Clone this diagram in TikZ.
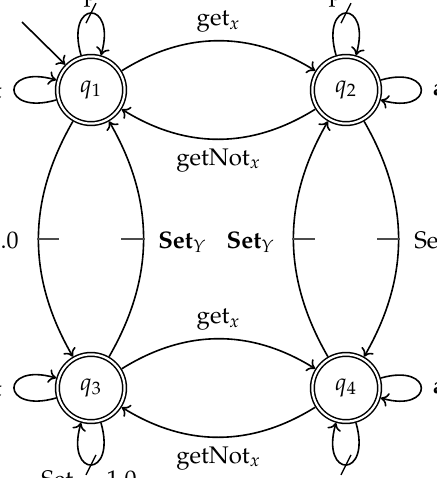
\documentclass[tikz,border=0pt]{standalone}
\usepackage[T1]{fontenc}
\usepackage{mathpazo}
\usetikzlibrary{arrows.meta}
\begin{document}
\begin{tikzpicture}[x=0.5pt,y=0.5pt,
  every node/.style={font=\fontsize{12}{14}\selectfont},
  state/.style={circle,draw,double,double distance=1.1pt,line width=0.75pt,minimum size=33.6pt,inner sep=0pt,outer sep=1.3pt},
  trans/.style={draw,line width=0.8pt,-{To[length=3.8pt,width=7pt]}},
  tickmark/.style={draw,line width=0.65pt,black!70},
  slashmark/.style={draw,line width=0.65pt},
  lbl/.style={inner sep=0pt}
]
\useasboundingbox (0,0) rectangle (436,-478);
\clip (0,0) rectangle (436,-478);

\node[state] (q1) at (91,-90) {$q_1$};
\node[state] (q2) at (346,-90) {$q_2$};
\node[state] (q3) at (91,-388) {$q_3$};
\node[state] (q4) at (346,-388) {$q_4$};
\coordinate (init) at (22,-22);

\path[trans] (init) -- (q1);

% horizontal transitions
\path[trans] (q1) to[bend left=32] node[lbl,pos=0.5,anchor=base,yshift=7.5pt]{get$_x$} (q2);
\path[trans] (q2) to[bend left=32] node[lbl,pos=0.5,anchor=base,yshift=-13pt]{getNot$_x$} (q1);
\path[trans] (q3) to[bend left=32] node[lbl,pos=0.5,anchor=base,yshift=7.5pt]{get$_x$} (q4);
\path[trans] (q4) to[bend left=32] node[lbl,pos=0.5,anchor=base,yshift=-13pt]{getNot$_x$} (q3);

% vertical transitions
\path[trans] (q1) to[bend right=30] coordinate[pos=0.5] (m13)
  node[lbl,pos=0.5,anchor=base east,xshift=-9.5pt,yshift=-4.5pt]{Set$_Y$ 1.0} (q3);
\path[trans] (q3) to[bend right=30] coordinate[pos=0.5] (m31)
  node[lbl,pos=0.5,anchor=base west,xshift=7pt,yshift=-4.5pt]{\textbf{Set}$_Y$} (q1);
\path[trans] (q4) to[bend left=30] coordinate[pos=0.5] (m42)
  node[lbl,pos=0.5,anchor=base east,xshift=-9pt,yshift=-4.5pt]{\textbf{Set}$_Y$} (q2);
\path[trans] (q2) to[bend left=30] coordinate[pos=0.5] (m24)
  node[lbl,pos=0.5,anchor=base west,xshift=7.5pt,yshift=-4.5pt]{Set$_Y$ 1.0} (q4);

\draw[tickmark] ([xshift=-0.5pt]m13) -- ++(11pt,0);
\draw[tickmark] ([xshift=0.5pt]m31) -- ++(-12pt,0);
\draw[tickmark] ([xshift=-0.5pt]m42) -- ++(11.5pt,0);
\draw[tickmark] ([xshift=0.5pt]m24) -- ++(-11.5pt,0);

% loops
\path[trans] (q1) to[out=106,in=74,looseness=7.5] coordinate[pos=0.5] (l1t)
  node[lbl,pos=0.5,anchor=base,yshift=6.5pt]{p} (q1);
\path[trans] (q2) to[out=106,in=74,looseness=7.5] coordinate[pos=0.5] (l2t)
  node[lbl,pos=0.5,anchor=base,xshift=-5pt,yshift=6.5pt]{p} (q2);
\path[trans] (q1) to[out=196,in=164,looseness=7.5] coordinate[pos=0.5] (l1l)
  node[lbl,pos=0.5,anchor=east,xshift=-5.8pt]{Set} (q1);
\path[trans] (q3) to[out=196,in=164,looseness=7.5] coordinate[pos=0.5] (l3l)
  node[lbl,pos=0.5,anchor=east,xshift=-5.8pt]{Set} (q3);
\path[trans] (q2) to[out=16,in=-16,looseness=7.2] coordinate[pos=0.5] (l2r)
  node[lbl,pos=0.5,anchor=west,xshift=5.5pt]{\textbf{a}} (q2);
\path[trans] (q4) to[out=16,in=-16,looseness=7.2] coordinate[pos=0.5] (l4r)
  node[lbl,pos=0.5,anchor=west,xshift=5.5pt]{\textbf{a}} (q4);
\path[trans] (q3) to[out=-74,in=-106,looseness=7.5] coordinate[pos=0.5] (l3b)
  node[lbl,pos=0.5,anchor=base,xshift=-1pt,yshift=-11.5pt]{Set$_{XY}$ 1.0} (q3);
\path[trans] (q4) to[out=-74,in=-106,looseness=7.5] coordinate[pos=0.5] (l4b) (q4);

\draw[slashmark] ([shift={(-2.5pt,-5pt)}]l1t) -- ([shift={(2.5pt,5pt)}]l1t);
\draw[slashmark] ([shift={(-2.5pt,-5pt)}]l2t) -- ([shift={(2.5pt,5pt)}]l2t);
\draw[slashmark] ([shift={(-2.5pt,-5pt)}]l3b) -- ([shift={(2.5pt,5pt)}]l3b);
\draw[slashmark] ([shift={(-2.5pt,-5pt)}]l4b) -- ([shift={(2.5pt,5pt)}]l4b);
\end{tikzpicture}
\end{document}
